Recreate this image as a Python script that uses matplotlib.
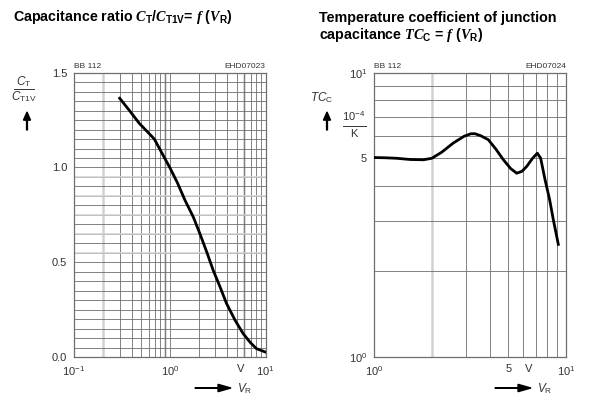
import numpy as np
import matplotlib
matplotlib.use("Agg")
import matplotlib.pyplot as plt

plt.rcParams["font.family"] = ["Liberation Sans", "DejaVu Sans"]
plt.rcParams["mathtext.fontset"] = "custom"
plt.rcParams["mathtext.rm"] = "Liberation Sans"
plt.rcParams["mathtext.it"] = "Liberation Serif:italic:bold"
plt.rcParams["mathtext.bf"] = "Liberation Sans:bold"
plt.rcParams["mathtext.sf"] = "Liberation Sans:italic"

# capacitance ratio CT/CT1V vs reverse voltage
vr_ratio = [0.30, 0.38, 0.48, 0.58, 0.69, 0.82, 1.0, 1.2, 1.44, 1.76, 2.06, 2.45, 2.84, 3.35, 3.92, 4.8, 5.83, 6.9, 8.05, 10.0]
ct_ratio = [1.365, 1.30, 1.233, 1.19, 1.15, 1.08, 1.0, 0.92, 0.828, 0.739, 0.652, 0.55, 0.458, 0.37, 0.282, 0.195, 0.124, 0.078, 0.044, 0.026]

# temperature coefficient TCc (10^-4/K) vs reverse voltage
vr_tc = [1.0, 1.15, 1.31, 1.55, 1.81, 2.0, 2.25, 2.59, 2.95, 3.2, 3.36, 3.6, 3.94, 4.3, 4.72, 5.15, 5.54, 5.9, 6.24, 6.7, 7.09, 7.38, 7.78, 8.2, 8.59, 9.12]
tc = [5.03, 5.02, 5.0, 4.95, 4.94, 5.0, 5.25, 5.66, 5.98, 6.1, 6.1, 6.0, 5.81, 5.4, 4.94, 4.6, 4.43, 4.5, 4.68, 5.0, 5.21, 5.0, 4.2, 3.6, 3.04, 2.49]

W, H = 590, 408
fig = plt.figure(figsize=(W / 100, H / 100), dpi=100)


def fx(px):
    return px / W


def fy(py):
    return 1 - py / H


grid_c = "#6e6e6e"
light_c = "#d2d2d2"
txt_c = "#333333"
title_size = 10.3

# ---------- left chart ----------
ax1 = fig.add_axes([fx(74), fy(357), fx(265.5) - fx(74), fy(72.7) - fy(357)])
ax1.set_xscale("log")
ax1.set_xlim(0.1, 10)
ax1.set_ylim(0, 1.5)
for m in [0.2, 0.9, 6]:
    ax1.axvline(m, color=light_c, lw=1.8, zorder=1)
for v in [0.3, 0.4, 0.5, 0.6, 0.7, 0.8, 0.9, 1, 2, 3, 4, 5, 6, 7, 8, 9]:
    ax1.axvline(v, color=grid_c, lw=0.6, zorder=1)
for h in np.arange(0.05, 1.5, 0.05):
    ax1.axhline(h, color=grid_c, lw=0.6, zorder=1)
for h in [0.55, 0.65, 0.75, 0.85, 0.95]:
    ax1.axhline(h, color=light_c, lw=1.1, zorder=1)
ax1.plot(vr_ratio, ct_ratio, color="black", lw=2.0, zorder=3)
ax1.set_yticks([0.0, 0.5, 1.0, 1.5], ["0.0", "0.5", "1.0", "1.5"])
ax1.set_xticks([0.1, 1, 5.5, 10], [r"$\mathregular{10^{-1}}$", r"$\mathregular{10^{0}}$", "V", r"$\mathregular{10^{1}}$"])
ax1.minorticks_off()
ax1.tick_params(length=0, labelsize=8, colors=txt_c, pad=5)
for s in ax1.spines.values():
    s.set_color(grid_c)
    s.set_linewidth(0.9)
ax1.text(0.0, 1.01, "BB 112", transform=ax1.transAxes, fontsize=6, color=txt_c, va="bottom")
ax1.text(1.0, 1.01, "EHD07023", transform=ax1.transAxes, fontsize=6, color=txt_c, va="bottom", ha="right")

fig.text(fx(13), fy(21), r"Capacitance ratio $\mathit{C}_\mathbf{T}$/$\mathit{C}_\mathbf{T1V}$= $\mathit{f}$ ($\mathit{V}_\mathbf{R}$)",
         fontsize=title_size, fontweight="bold", va="baseline")
fig.text(fx(24), fy(85), r"$\mathsf{C}_\mathrm{T}$", fontsize=8.5, color=txt_c, ha="center", va="baseline")
fig.lines.append(plt.Line2D([fx(14), fx(34)], [fy(89), fy(89)], transform=fig.transFigure, color=txt_c, lw=0.7))
fig.text(fx(24), fy(100), r"$\mathsf{C}_\mathrm{T1V}$", fontsize=8.5, color=txt_c, ha="center", va="baseline")
fig.patches.append(matplotlib.patches.FancyArrow(fx(27), fy(130), 0, fy(112) - fy(130), width=0.0015, head_width=0.012,
                                                 head_length=0.02, length_includes_head=True, color="black", transform=fig.transFigure))
fig.patches.append(matplotlib.patches.FancyArrow(fx(195), fy(388), fx(231) - fx(195), 0, width=0.001, head_width=0.018,
                                                 head_length=0.022, length_includes_head=True, color="black", transform=fig.transFigure))
fig.text(fx(237), fy(392), r"$\mathsf{V}_\mathrm{R}$", fontsize=8.5, color=txt_c, va="baseline")

# ---------- right chart ----------
ax2 = fig.add_axes([fx(374), fy(357), fx(566) - fx(374), fy(72.7) - fy(357)])
ax2.set_xscale("log")
ax2.set_yscale("log")
ax2.set_xlim(1, 10)
ax2.set_ylim(1, 10)
ax2.axvline(2, color=light_c, lw=1.8, zorder=1)
for v in [3, 4, 5, 6, 7, 8, 9]:
    ax2.axvline(v, color=grid_c, lw=0.6, zorder=1)
for h in [2, 3, 4, 5, 6, 7, 8, 9]:
    ax2.axhline(h, color=grid_c, lw=0.6, zorder=1)
ax2.plot(vr_tc, tc, color="black", lw=2.0, zorder=3)
ax2.set_yticks([1, 5, 10], [r"$\mathregular{10^{0}}$", "5", r"$\mathregular{10^{1}}$"])
ax2.set_xticks([1, 5, 6.4, 10], [r"$\mathregular{10^{0}}$", "5", "V", r"$\mathregular{10^{1}}$"])
ax2.minorticks_off()
ax2.tick_params(length=0, labelsize=8, colors=txt_c, pad=5)
for s in ax2.spines.values():
    s.set_color(grid_c)
    s.set_linewidth(0.9)
ax2.text(0.0, 1.01, "BB 112", transform=ax2.transAxes, fontsize=6, color=txt_c, va="bottom")
ax2.text(1.0, 1.01, "EHD07024", transform=ax2.transAxes, fontsize=6, color=txt_c, va="bottom", ha="right")

fig.text(fx(319), fy(22), "Temperature coefficient of junction", fontsize=title_size, fontweight="bold", va="baseline")
fig.text(fx(319), fy(39), r"capacitance $\mathit{TC}_\mathbf{C}$ = $\mathit{f}$ ($\mathit{V}_\mathbf{R}$)",
         fontsize=title_size, fontweight="bold", va="baseline")
fig.text(fx(310), fy(101), r"$\mathsf{TC}_\mathrm{C}$", fontsize=8.5, color=txt_c, va="baseline")
fig.patches.append(matplotlib.patches.FancyArrow(fx(327), fy(130), 0, fy(112) - fy(130), width=0.0015, head_width=0.012,
                                                 head_length=0.02, length_includes_head=True, color="black", transform=fig.transFigure))
fig.text(fx(354), fy(121), r"$\mathregular{10^{-4}}$", fontsize=8, color=txt_c, ha="center", va="baseline")
fig.lines.append(plt.Line2D([fx(343), fx(366)], [fy(126), fy(126)], transform=fig.transFigure, color=txt_c, lw=0.7))
fig.text(fx(354), fy(137), "K", fontsize=8, color=txt_c, ha="center", va="baseline")
fig.patches.append(matplotlib.patches.FancyArrow(fx(495), fy(388), fx(531) - fx(495), 0, width=0.001, head_width=0.018,
                                                 head_length=0.022, length_includes_head=True, color="black", transform=fig.transFigure))
fig.text(fx(537), fy(392), r"$\mathsf{V}_\mathrm{R}$", fontsize=8.5, color=txt_c, va="baseline")

fig.savefig("out.png", dpi=100)
